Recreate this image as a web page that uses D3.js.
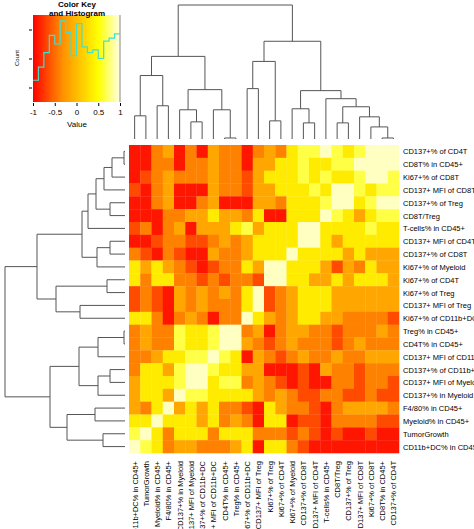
<!DOCTYPE html>
<html>
<head>
<meta charset="UTF-8">
<script src="https://d3js.org/d3.v7.min.js"></script>
<style>
body { margin: 0; background: #fff; }
text { font-family: "Liberation Sans", Arial, sans-serif; }
</style>
</head>
<body>
<svg id="chart" width="474" height="529"></svg>
<script>
// row labels, top to bottom (columns are the same in reverse order)
var rowLabels = ["CD137+% of CD4T","CD8T% in CD45+","Ki67+% of CD8T","CD137+ MFI of CD8T","CD137+% of Treg",
  "CD8T/Treg","T-cells% in CD45+","CD137+ MFI of CD4T","CD137+% of CD8T","Ki67+% of Myeloid","Ki67+% of CD4T",
  "Ki67+% of Treg","CD137+ MFI of Treg","Ki67+% of CD11b+DC","Treg% in CD45+","CD4T% in CD45+",
  "CD137+ MFI of CD11b+DC","CD137+% of CD11b+DC","CD137+ MFI of Myeloid","CD137+% in Myeloid",
  "F4/80% in CD45+","Myeloid% in CD45+","TumorGrowth","CD11b+DC% in CD45+"];
var colLabels = rowLabels.slice().reverse();

// cell values coded by colour level (R red .. W white)
var levels = { R: -0.9, r: -0.65, O: -0.4, o: -0.15, Y: 0.35, y: 0.65, W: 0.92 };
var cellCodes = [
  "RROoRORoOOROoOYyyWyYyWWW",
  "RROOROOoOORooYYyYYyyWWWW",
  "RrOoOOOoOOroYYYyYyYYyWWy",
  "rROoRRRoOOrooYYYyYWWyYyy",
  "RROoRROoRRRooOYYYyWWYyWW",
  "RRROOooYooOYRRYYYWyYoYyy",
  "rOROoRoooYyoYYYWWYYYYyYY",
  "RRrOOrrOoOoYYYYWWYoYYYYY",
  "OrROrRRoOOoYYYWYYYYoYooo",
  "YoYoOrRrOOYoWWYYYoroOYoo",
  "YOYYOOrOrOOrWWYYooYoYYYo",
  "rOrRoOoOoOYWrOoYYYoooooo",
  "rOrRoOoOOOYWrOoYYYoooooo",
  "YYOROoOROOWYoOoYYooOOOOr",
  "OoOOyYYyWWOoROooOOrOOOoO",
  "OoOOyYYyWWoOrOoOOOrOoOOO",
  "OOoYYyyWyYRoOrOoOOoOOooo",
  "OYYoyWWyYYooRRRrRoOOrOOO",
  "oYYYyWWYyyOoOrRrRROOrOOr",
  "oYYoWyyYYYYoOoOrrOOrrOrr",
  "oOYWoYoYOOrRYoOOrROooooO",
  "YYWYYYoYOoORYYRrrROOOOrr",
  "yWYOYYYOYYYOOOrOrRrRRrRR",
  "WyYOooOOOoYRYYOrRRRRRRRR"
];

// dendrograms: leaves are indices, nodes carry merge height h
var rowTree = {h:120, c:[
  {h:88, c:[
    {h:43, c:[
      {h:37, c:[{h:29, c:[{h:21, c:[{h:13, c:[{h:1, c:[0,1]}, 2]}, 3]}, {h:15, c:[4,5]}]}, 6]},
      {h:28, c:[{h:15, c:[7,8]}, 9]}]},
    {h:69, c:[{h:18, c:[10,11]}, {h:45, c:[12,13]}]}]},
  {h:75, c:[
    {h:46, c:[{h:27, c:[{h:1, c:[14,15]}, 16]}, {h:27, c:[{h:15, c:[17,18]}, 19]}]},
    {h:58, c:[{h:30, c:[20,21]}, {h:22, c:[22,23]}]}]}]};

var colTree = {h:133, c:[
  {h:82, c:[
    {h:63, c:[{h:23, c:[0,1]}, {h:33, c:[2,3]}]},
    {h:49, c:[{h:29, c:[4,{h:17, c:[5,6]}]}, {h:29, c:[7,{h:1, c:[8,9]}]}]}]},
  {h:97, c:[
    {h:77, c:[{h:50, c:[10,11]}, {h:18, c:[12,13]}]},
    {h:48, c:[{h:30, c:[14,{h:16, c:[15,16]}]},
      {h:40, c:[17,{h:32, c:[{h:16, c:[18,19]}, {h:22, c:[20,{h:12, c:[21,{h:1, c:[22,23]}]}]}]}]}]}]}]};

// histogram in colour key
var histEdges = d3.range(-1, 1.0001, 0.125);
var histCounts = [15,24,34,46,40,56,48,32,54,38,34,36,30,42,44,47];
var keyTicksX = [-1,-0.5,0,0.5,1];
var keyTicksY = [10,30,50];

var svg = d3.select("#chart");
var color = d3.scaleLinear().domain([-1,-0.35,0.5,1]).range(["#ff0000","#ff8c00","#ffff00","#ffffe6"]).clamp(true);

var x = d3.scaleBand().domain(d3.range(24)).range([129, 399]);
var y = d3.scaleBand().domain(d3.range(24)).range([145, 453]);

// heatmap cells
cellCodes.forEach(function(row, i) {
  svg.selectAll(null).data(row.split("")).enter().append("rect")
    .attr("x", function(d, j) { return x(j); })
    .attr("y", y(i))
    .attr("width", x.bandwidth() + 0.3)
    .attr("height", y.bandwidth() + 0.3)
    .attr("fill", function(d) { return color(levels[d]); });
});

// row labels
svg.selectAll(".rl").data(rowLabels).enter().append("text")
  .attr("x", 403).attr("y", function(d, i) { return y(i) + y.bandwidth() / 2 + 3; })
  .attr("font-size", 7.5).text(function(d) { return d; });

// column labels
svg.selectAll(".cl").data(colLabels).enter().append("text")
  .attr("transform", function(d, i) { return "translate(" + (x(i) + x.bandwidth() / 2 + 3) + ",461) rotate(-90)"; })
  .attr("text-anchor", "end").attr("font-size", 7.5).text(function(d) { return d; });

// dendrogram drawing
function drawTree(tree, pos, hs, vertical) {
  var lines = [];
  (function walk(n) {
    if (typeof n === "number") return { p: pos(n), h: 0 };
    var a = walk(n.c[0]), b = walk(n.c[1]);
    lines.push([a.p, a.h, a.p, n.h], [b.p, b.h, b.p, n.h], [a.p, n.h, b.p, n.h]);
    return { p: (a.p + b.p) / 2, h: n.h };
  })(tree);
  svg.append("g").selectAll("line").data(lines).enter().append("line")
    .attr("x1", function(d) { return vertical ? d[0] : hs(d[1]); })
    .attr("y1", function(d) { return vertical ? hs(d[1]) : d[0]; })
    .attr("x2", function(d) { return vertical ? d[2] : hs(d[3]); })
    .attr("y2", function(d) { return vertical ? hs(d[3]) : d[2]; })
    .attr("stroke", "#555").attr("stroke-width", 1);
}
drawTree(colTree, function(i) { return x(i) + x.bandwidth() / 2; }, d3.scaleLinear().domain([0,133]).range([139,5]), true);
drawTree(rowTree, function(i) { return y(i) + y.bandwidth() / 2; }, d3.scaleLinear().domain([0,120]).range([125,5]), false);

// colour key
var kx = d3.scaleLinear().domain([-1,1]).range([33,120]);
var ky = d3.scaleLinear().domain([0,60]).range([102,15]);
var grad = svg.append("defs").append("linearGradient").attr("id", "kg");
d3.range(0, 1.0001, 0.05).forEach(function(t) {
  grad.append("stop").attr("offset", t).attr("stop-color", color(-1 + 2 * t));
});
svg.append("rect").attr("x", kx(-1)).attr("y", 15).attr("width", kx(1) - kx(-1)).attr("height", 87).attr("fill", "url(#kg)");
svg.append("line").attr("x1", kx(1)).attr("x2", kx(1)).attr("y1", 15).attr("y2", 102).attr("stroke", "#888");

var step = d3.line().curve(d3.curveStepAfter).x(function(d) { return kx(d[0]); }).y(function(d) { return ky(d[1]); });
var pts = histEdges.map(function(e, i) { return [e, histCounts[Math.min(i, histCounts.length - 1)]]; });
svg.append("path").attr("d", step(pts)).attr("fill", "none").attr("stroke", "#40e0d0").attr("stroke-width", 1.2);

svg.append("g").attr("transform", "translate(0,103)")
  .call(d3.axisBottom(kx).tickValues(keyTicksX).tickSize(3).tickFormat(function(d) { return d; }))
  .call(function(g) { g.select(".domain").remove(); g.selectAll("text").attr("font-size", 8); });
svg.append("g").attr("transform", "translate(32,0)")
  .call(d3.axisLeft(ky).tickValues(keyTicksY).tickSize(3))
  .call(function(g) {
    g.select(".domain").remove();
    g.selectAll("text").attr("font-size", 8).attr("transform", function(d) { return "rotate(-90," + (-6) + "," + ky(d) + ")"; })
      .attr("text-anchor", "middle").attr("dy", "0.3em");
  });
svg.append("text").attr("transform", "translate(19,58) rotate(-90)").attr("text-anchor", "middle").attr("font-size", 6).text("Count");
svg.append("text").attr("x", 77).attr("y", 127).attr("text-anchor", "middle").attr("font-size", 8).text("Value");
svg.append("text").attr("x", 77).attr("y", 7).attr("text-anchor", "middle").attr("font-size", 8).attr("font-weight", "bold").text("Color Key");
svg.append("text").attr("x", 77).attr("y", 16).attr("text-anchor", "middle").attr("font-size", 8).attr("font-weight", "bold").text("and Histogram");
</script>
</body>
</html>
